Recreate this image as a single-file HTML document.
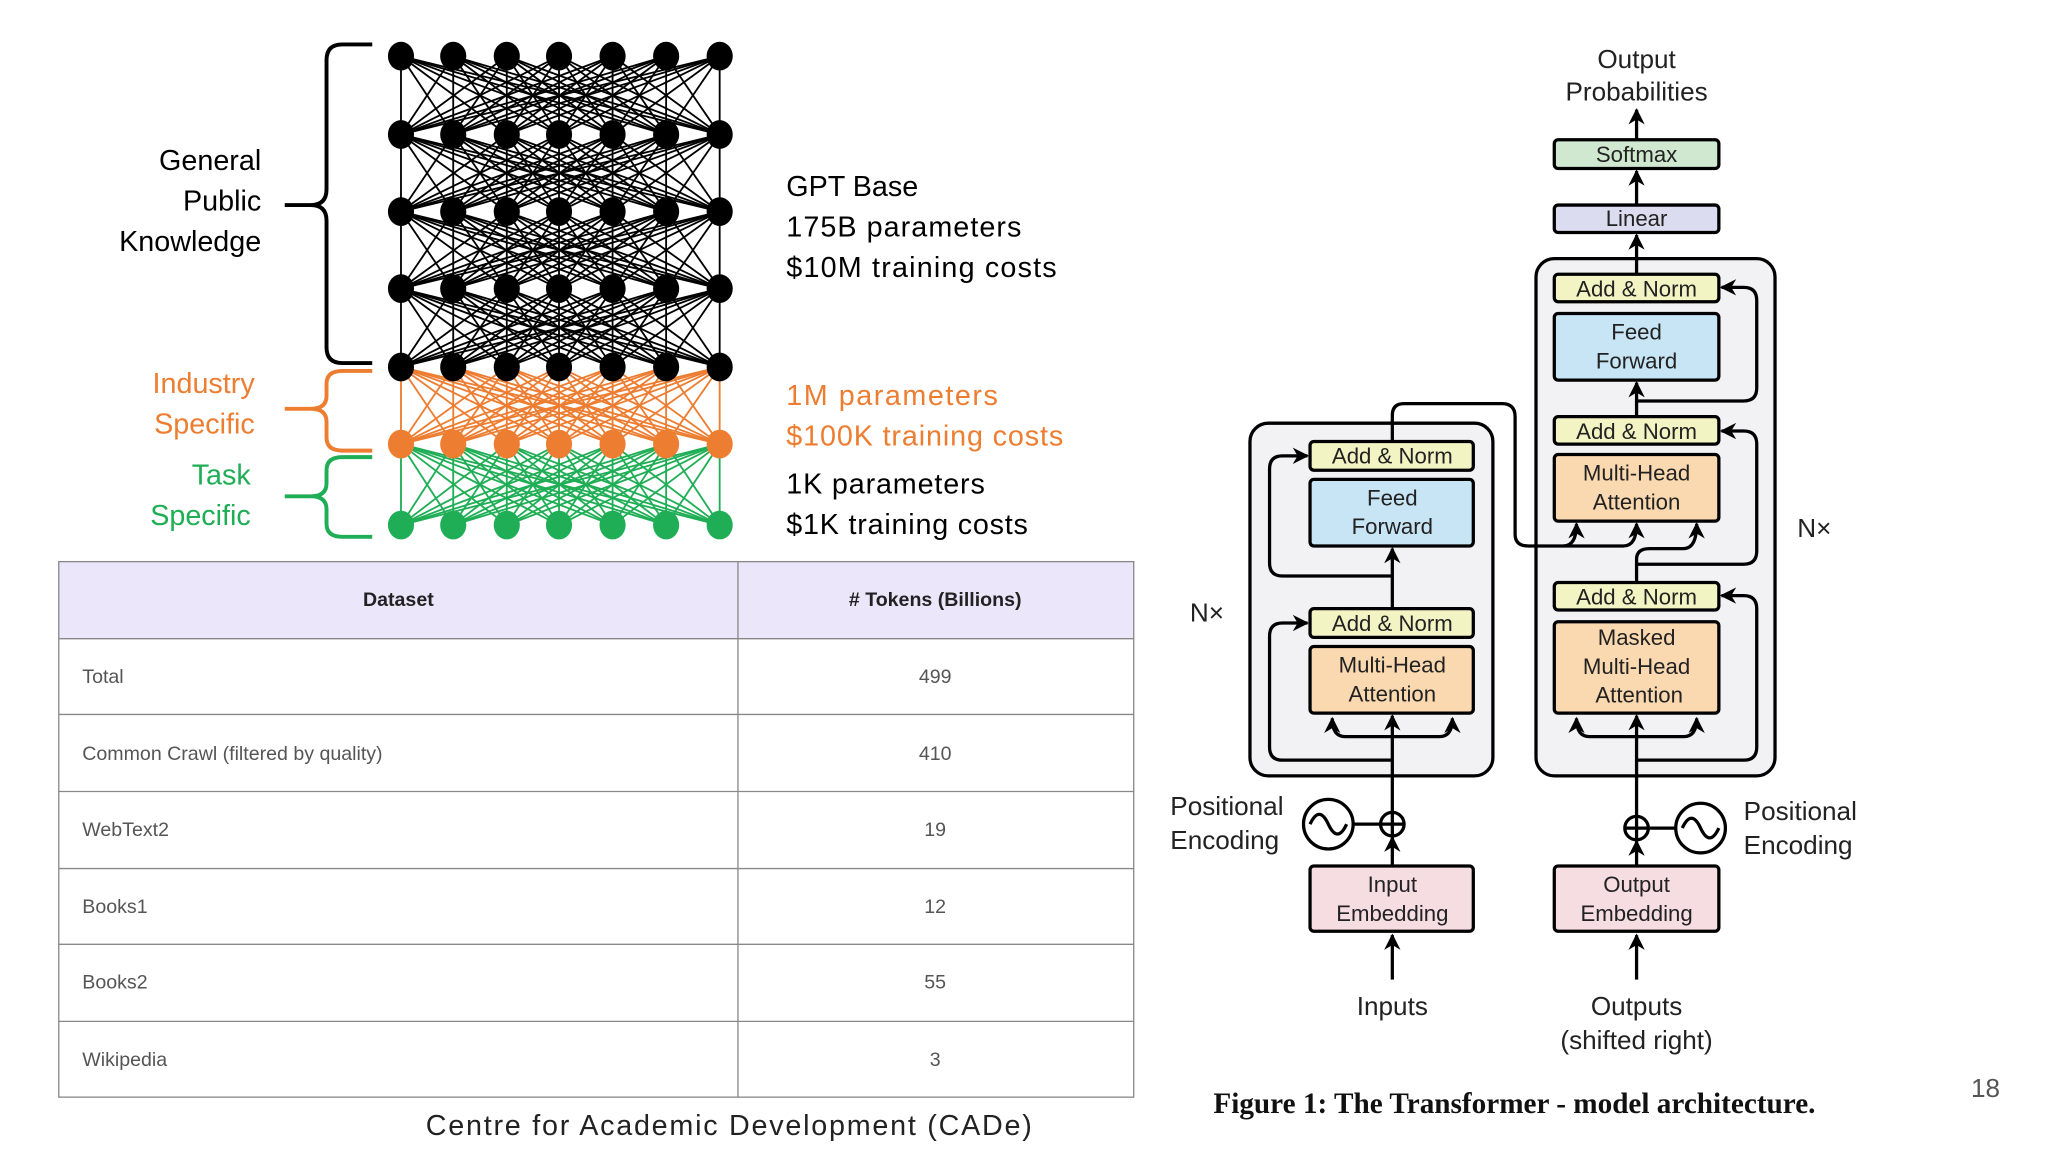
<!DOCTYPE html>
<html><head><meta charset="utf-8"><style>
html,body{margin:0;padding:0;background:#fff;}
svg{display:block;}
text{font-family:"Liberation Sans",sans-serif;}
.t{font-size:17px;text-anchor:middle;fill:#222;}
.tb{font-size:15px;fill:#555;}
</style></head><body>
<svg id="s" width="2048" height="1152" viewBox="0 0 1568 882" preserveAspectRatio="none" xmlns="http://www.w3.org/2000/svg">
<defs>
<marker id="a" viewBox="0 0 10 10" refX="9" refY="5" markerWidth="5" markerHeight="5" orient="auto"><path d="M0,0 L10,5 L0,10 L3,5 z" fill="#000"/></marker>
</defs>
<rect width="1568" height="882" fill="#fff"/>
<g id="net"></g>
<g fill="none" stroke-width="3">
<path d="M285,34 H262 Q250,34 250,46 V145 Q250,157 238,157 H218 M238,157 Q250,157 250,169 V266 Q250,278 262,278 H285" stroke="#000"/>
<path d="M285,284 H262 Q250,284 250,294 V303 Q250,313 238,313 H218 M238,313 Q250,313 250,323 V335 Q250,345 262,345 H285" stroke="#ED7D31"/>
<path d="M285,350 H262 Q250,350 250,360 V370 Q250,380 238,380 H218 M238,380 Q250,380 250,390 V401 Q250,411 262,411 H285" stroke="#1FAE55"/>
</g>
<g font-size="22" text-anchor="end" style="font-weight:500">
<text x="200" y="130">General</text><text x="200" y="161">Public</text><text x="200" y="192">Knowledge</text>
<text x="195" y="301" fill="#ED7D31">Industry</text><text x="195" y="332" fill="#ED7D31">Specific</text>
<text x="192" y="371" fill="#1FAE55">Task</text><text x="192" y="402" fill="#1FAE55">Specific</text>
</g>
<g font-size="22">
<text x="602" y="150">GPT Base</text><text x="602" y="181" textLength="180">175B parameters</text><text x="602" y="212" textLength="207">$10M training costs</text>
<text x="602" y="310" fill="#ED7D31" textLength="162">1M parameters</text><text x="602" y="341" fill="#ED7D31" textLength="212">$100K training costs</text>
<text x="602" y="378" textLength="152">1K parameters</text><text x="602" y="409" textLength="185">$1K training costs</text>
</g>
<rect x="45" y="430" width="823" height="59" fill="#ece6fb"/>
<g stroke="#888" stroke-width="1" fill="none">
<rect x="45" y="430" width="823" height="410"/>
<line x1="565" y1="430" x2="565" y2="840"/>
<line x1="45" y1="489" x2="868" y2="489"/><line x1="45" y1="547" x2="868" y2="547"/><line x1="45" y1="606" x2="868" y2="606"/><line x1="45" y1="665" x2="868" y2="665"/><line x1="45" y1="723" x2="868" y2="723"/><line x1="45" y1="782" x2="868" y2="782"/>
</g>
<text x="305" y="464" font-size="15" font-weight="bold" text-anchor="middle" fill="#222">Dataset</text>
<text x="716" y="464" font-size="15" font-weight="bold" text-anchor="middle" fill="#222"># Tokens (Billions)</text>
<g class="tb" font-size="15" fill="#555">
<text x="63" y="523">Total</text><text x="63" y="582">Common Crawl (filtered by quality)</text><text x="63" y="640">WebText2</text><text x="63" y="699">Books1</text><text x="63" y="757">Books2</text><text x="63" y="816">Wikipedia</text>
</g>
<g font-size="15" fill="#555" text-anchor="middle">
<text x="716" y="523">499</text><text x="716" y="582">410</text><text x="716" y="640">19</text><text x="716" y="699">12</text><text x="716" y="757">55</text><text x="716" y="816">3</text>
</g>
<text x="326" y="869" font-size="22" textLength="464" fill="#222">Centre for Academic Development (CADe)</text>

<rect x="957" y="324" width="186" height="270" rx="14" fill="#f2f2f4" stroke="#000" stroke-width="2.5"/>
<rect x="1176" y="198" width="183" height="396" rx="14" fill="#f2f2f4" stroke="#000" stroke-width="2.5"/>
<g stroke="#000" stroke-width="2.5">
<rect x="1003" y="338" width="125" height="22" rx="3" fill="#f3f4c4"/>
<rect x="1003" y="367" width="125" height="51" rx="3" fill="#c7e5f4"/>
<rect x="1003" y="466" width="125" height="22" rx="3" fill="#f3f4c4"/>
<rect x="1003" y="495" width="125" height="51" rx="3" fill="#fbd9b0"/>
<rect x="1003" y="663" width="125" height="50" rx="3" fill="#f6dde2"/>
<rect x="1190" y="107" width="126" height="22" rx="3" fill="#cfe8cf"/>
<rect x="1190" y="157" width="126" height="21" rx="3" fill="#dcdcf0"/>
<rect x="1190" y="210" width="126" height="21" rx="3" fill="#f3f4c4"/>
<rect x="1190" y="240" width="126" height="51" rx="3" fill="#c7e5f4"/>
<rect x="1190" y="319" width="126" height="21" rx="3" fill="#f3f4c4"/>
<rect x="1190" y="348" width="126" height="51" rx="3" fill="#fbd9b0"/>
<rect x="1190" y="446" width="126" height="21" rx="3" fill="#f3f4c4"/>
<rect x="1190" y="476" width="126" height="70" rx="3" fill="#fbd9b0"/>
<rect x="1190" y="663" width="126" height="50" rx="3" fill="#f6dde2"/>
</g>
<g class="t">
<text x="1066" y="355">Add &amp; Norm</text><text x="1066" y="387">Feed</text><text x="1066" y="409">Forward</text>
<text x="1066" y="483">Add &amp; Norm</text><text x="1066" y="515">Multi-Head</text><text x="1066" y="537">Attention</text>
<text x="1066" y="683">Input</text><text x="1066" y="705">Embedding</text>
<text x="1253" y="124">Softmax</text><text x="1253" y="173">Linear</text><text x="1253" y="227">Add &amp; Norm</text>
<text x="1253" y="260">Feed</text><text x="1253" y="282">Forward</text><text x="1253" y="336">Add &amp; Norm</text>
<text x="1253" y="368">Multi-Head</text><text x="1253" y="390">Attention</text><text x="1253" y="463">Add &amp; Norm</text>
<text x="1253" y="494">Masked</text><text x="1253" y="516">Multi-Head</text><text x="1255" y="538">Attention</text>
<text x="1253" y="683">Output</text><text x="1253" y="705">Embedding</text>
</g>
<g fill="none" stroke="#000" stroke-width="2.5">
<path d="M1066,750 V716" marker-end="url(#a)"/>
<path d="M1066,663 V641" marker-end="url(#a)"/>
<path d="M1066,622 V548" marker-end="url(#a)"/>
<path d="M1066,564 H1030 Q1020,564 1020,550" marker-end="url(#a)"/>
<path d="M1066,564 H1102 Q1112,564 1112,550" marker-end="url(#a)"/>
<path d="M1066,466 V420" marker-end="url(#a)"/>
<path d="M1066,582 H982 Q972,582 972,572 V487 Q972,477 982,477 H1001" marker-end="url(#a)"/>
<path d="M1066,441 H982 Q972,441 972,431 V359 Q972,349 982,349 H1001" marker-end="url(#a)"/>
<path d="M1066,338 V318 Q1066,309 1075,309 H1150 Q1160,309 1160,319 V409 Q1160,418 1170,418 H1197 Q1207,418 1207,401" marker-end="url(#a)"/>
<path d="M1197,418 H1243 Q1253,418 1253,401" marker-end="url(#a)"/>
<path d="M1036,631 H1057"/>
<path d="M1253,750 V716" marker-end="url(#a)"/>
<path d="M1253,663 V644" marker-end="url(#a)"/>
<path d="M1253,625 V548" marker-end="url(#a)"/>
<path d="M1253,564 H1217 Q1207,564 1207,550" marker-end="url(#a)"/>
<path d="M1253,564 H1289 Q1299,564 1299,550" marker-end="url(#a)"/>
<path d="M1253,446 V428 Q1253,420 1263,420 H1289 Q1299,420 1299,401" marker-end="url(#a)"/>
<path d="M1253,319 V293" marker-end="url(#a)"/>
<path d="M1253,210 V180" marker-end="url(#a)"/>
<path d="M1253,157 V131" marker-end="url(#a)"/>
<path d="M1253,107 V84" marker-end="url(#a)"/>
<path d="M1253,582 H1335 Q1345,582 1345,572 V466 Q1345,456 1335,456 H1318" marker-end="url(#a)"/>
<path d="M1253,432 H1335 Q1345,432 1345,422 V340 Q1345,330 1335,330 H1318" marker-end="url(#a)"/>
<path d="M1253,307 H1335 Q1345,307 1345,297 V230 Q1345,220 1335,220 H1318" marker-end="url(#a)"/>
<path d="M1262,634 H1283"/>
<circle cx="1017" cy="631" r="19" fill="#fff"/>
<path d="M1003,631 Q1010,616 1017,631 T1031,631"/>
<circle cx="1066" cy="631" r="9" fill="#fff"/>
<path d="M1057,631 H1075 M1066,622 V640"/>
<circle cx="1302" cy="634" r="19" fill="#fff"/>
<path d="M1288,634 Q1295,619 1302,634 T1316,634"/>
<circle cx="1253" cy="634" r="9" fill="#fff"/>
<path d="M1244,634 H1262 M1253,625 V643"/>
</g>
<g font-size="20" fill="#222">
<text x="896" y="624">Positional</text><text x="896" y="650">Encoding</text>
<text x="1335" y="628">Positional</text><text x="1335" y="654">Encoding</text>
<text x="911" y="476">N×</text><text x="1376" y="411">N×</text>
</g>
<g font-size="20" fill="#222" text-anchor="middle">
<text x="1066" y="777">Inputs</text><text x="1253" y="777">Outputs</text><text x="1253" y="803">(shifted right)</text>
<text x="1253" y="52">Output</text><text x="1253" y="77">Probabilities</text>
</g>
<text x="929" y="852" style="font-family:'Liberation Serif',serif;font-size:23px;font-weight:bold" textLength="461" lengthAdjust="spacingAndGlyphs" fill="#111">Figure 1: The Transformer - model architecture.</text>
<text x="1509" y="840" font-size="20" fill="#555">18</text>
</svg>
<script>
(function(){
var ns="http://www.w3.org/2000/svg",g=document.getElementById("net");
var xs=[307,347,388,428,469,510,551],ys=[43,103,162,221,281,340,402];
var col=["#000","#000","#000","#000","#ED7D31","#1FAE55"];
var nc=["#000","#000","#000","#000","#000","#ED7D31","#1FAE55"];
for(var l=0;l<6;l++){for(var i=0;i<7;i++)for(var j=0;j<7;j++){var e=document.createElementNS(ns,"line");
e.setAttribute("x1",xs[i]);e.setAttribute("y1",ys[l]);e.setAttribute("x2",xs[j]);e.setAttribute("y2",ys[l+1]);
e.setAttribute("stroke",col[l]);e.setAttribute("stroke-width","1.4");g.appendChild(e);}}
for(var l=0;l<7;l++)for(var i=0;i<7;i++){var c=document.createElementNS(ns,"ellipse");
c.setAttribute("cx",xs[i]);c.setAttribute("cy",ys[l]);c.setAttribute("rx",10);c.setAttribute("ry",11);c.setAttribute("fill",nc[l]);g.appendChild(c);}
})();
</script>
</body></html>
